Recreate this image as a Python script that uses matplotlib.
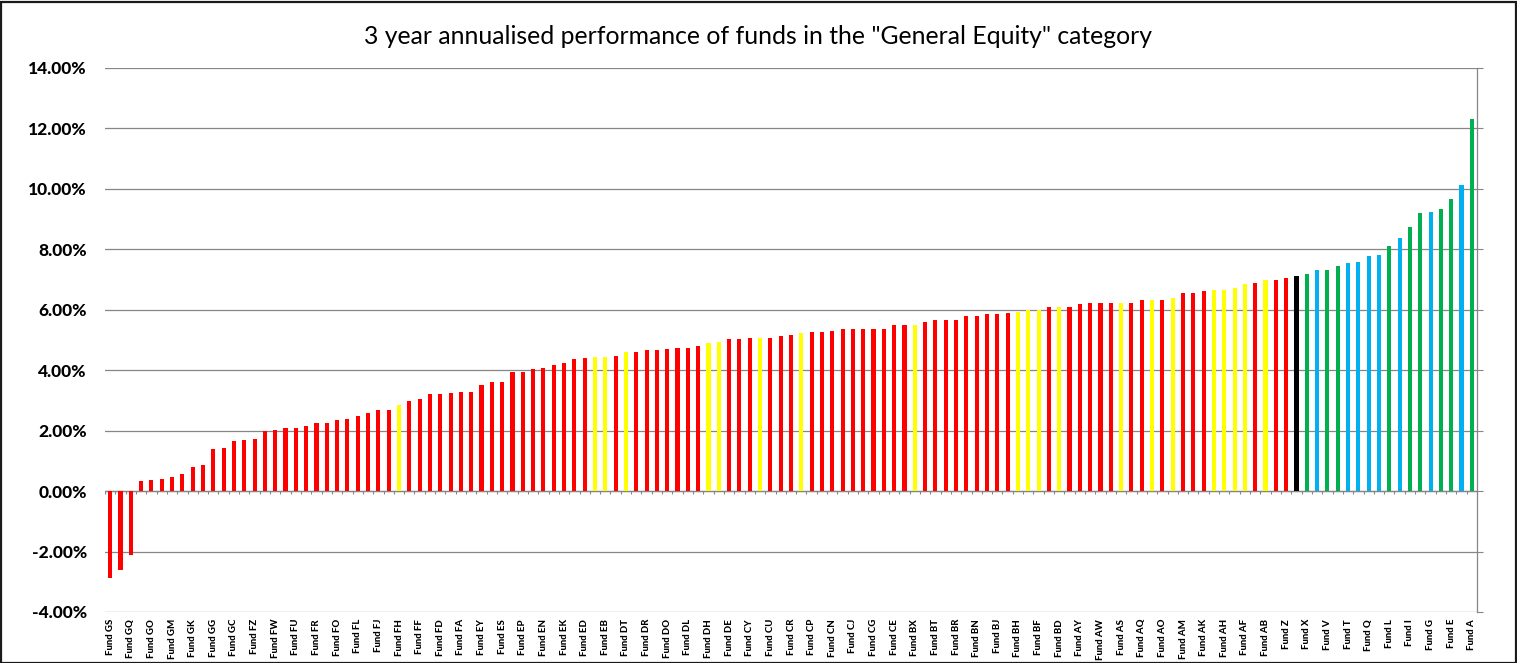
import matplotlib
matplotlib.use("Agg")
import matplotlib.pyplot as plt
from matplotlib.patches import Rectangle
import numpy as np

# ---- data -------------------------------------------------------------
title = '3 year annualised performance of funds in the "General Equity" category'

# 3-year annualised return (%) of each fund, sorted ascending (133 funds)
returns_pct = [
    -2.89, -2.62, -2.10, 0.33, 0.36, 0.40, 0.46, 0.56, 0.79, 0.86,
    1.38, 1.42, 1.65, 1.68, 1.71, 1.98, 2.01, 2.08, 2.08, 2.14,
    2.24, 2.27, 2.34, 2.37, 2.47, 2.57, 2.67, 2.70, 2.84, 2.99,
    3.05, 3.21, 3.21, 3.25, 3.28, 3.28, 3.51, 3.61, 3.61, 3.93,
    3.93, 4.03, 4.07, 4.16, 4.24, 4.36, 4.39, 4.43, 4.43, 4.46,
    4.59, 4.59, 4.66, 4.66, 4.69, 4.75, 4.75, 4.79, 4.90, 4.93,
    5.02, 5.02, 5.08, 5.08, 5.08, 5.12, 5.18, 5.22, 5.25, 5.25,
    5.31, 5.35, 5.38, 5.38, 5.38, 5.38, 5.48, 5.51, 5.51, 5.61,
    5.65, 5.65, 5.65, 5.78, 5.81, 5.85, 5.85, 5.88, 5.92, 5.99,
    5.99, 6.08, 6.08, 6.08, 6.18, 6.21, 6.21, 6.24, 6.24, 6.24,
    6.31, 6.34, 6.34, 6.38, 6.55, 6.57, 6.61, 6.64, 6.67, 6.71,
    6.84, 6.87, 6.97, 6.97, 7.06, 7.13, 7.20, 7.30, 7.32, 7.46,
    7.56, 7.59, 7.79, 7.82, 8.12, 8.39, 8.75, 9.19, 9.22, 9.32,
    9.65, 10.12, 12.31,
]

# colour group of every bar: R red, Y yellow, K black, G green, B blue
groups = (
    "R" * 28 + "Y" + "R" * 18 + "YY" + "R" + "Y" + "R" * 7 + "YY" + "RRR" + "Y"
    + "RRR" + "Y" + "R" * 10 + "Y" + "R" * 9 + "YYY" + "R" + "Y" + "R" * 5 + "Y"
    + "RR" + "Y" + "R" + "Y" + "RRR" + "YYYY" + "R" + "Y" + "RR" + "K" + "G" + "B"
    + "GG" + "BBBB" + "G" + "B" + "GG" + "B" + "GG" + "B" + "G"
)

# labels shown on the axis (every second fund, starting with the first)
shown_labels = [
    "GS", "GQ", "GO", "GM", "GK", "GG", "GC", "FZ", "FW", "FU", "FR", "FO",
    "FL", "FJ", "FH", "FF", "FD", "FA", "EY", "ES", "EP", "EN", "EK", "ED",
    "EB", "DT", "DR", "DO", "DL", "DH", "DE", "CY", "CU", "CR", "CP", "CN",
    "CJ", "CG", "CE", "BX", "BT", "BR", "BN", "BJ", "BH", "BF", "BD", "AY",
    "AW", "AS", "AQ", "AO", "AM", "AK", "AH", "AF", "AB", "Z", "X", "V", "T",
    "Q", "L", "I", "G", "E", "A",
]

y_ticks_pct = [-4, -2, 0, 2, 4, 6, 8, 10, 12, 14]

group_colors = {"R": "#FF0000", "Y": "#FFFF00", "K": "#000000",
                "G": "#00B050", "B": "#00B0F0"}

assert len(groups) == len(returns_pct)

# ---- figure -----------------------------------------------------------
W, H, DPI = 1517, 663, 100
fig = plt.figure(figsize=(W / DPI, H / DPI), dpi=DPI, facecolor="white")
ax = fig.add_axes([105 / W, 1 - 612 / H, (1477 - 105) / W, (612 - 68) / H])

n = len(returns_pct)
x = np.arange(n)
colors = [group_colors[g] for g in groups]
grid_c = "#868686"

ax.bar(x, returns_pct, width=0.4, color=colors, zorder=3)

ax.set_xlim(-0.5, n - 0.5)
ax.set_ylim(y_ticks_pct[0], y_ticks_pct[-1])

# gridlines
ax.set_yticks(y_ticks_pct)
ax.yaxis.grid(True, color=grid_c, linewidth=0.9)
ax.set_axisbelow(True)
ax.set_yticklabels([f"{v:.2f}%" for v in y_ticks_pct],
                   fontfamily="Lato", fontweight="black", fontsize=12.5)
ax.tick_params(axis="y", left=False, right=True, labelleft=True,
               labelright=False, direction="out", length=4.5, width=0.8,
               color=grid_c, pad=8.5)

# category axis (horizontal line at zero with small ticks between bars)
ax.axhline(0, color=grid_c, linewidth=0.9, zorder=2)
bounds = np.arange(n + 1) - 0.5
ax.vlines(bounds, -0.1, 0, color=grid_c, linewidth=0.8, zorder=2)

ax.set_xticks(x[::2])
ax.set_xticklabels([f"Fund {s}" for s in shown_labels], rotation=90,
                   fontfamily="Lato", fontweight="black", fontsize=6.9,
                   va="top", ha="center")
ax.tick_params(axis="x", length=0, pad=5)

for side in ("left", "top", "bottom"):
    ax.spines[side].set_visible(False)
ax.spines["right"].set_color(grid_c)
ax.spines["right"].set_linewidth(0.9)

fig.text(0.5, 1 - 37 / H, title, ha="center", va="center",
         fontfamily="Lato", fontsize=17.8, color="black")

# chart border
fig.patches.append(Rectangle((0.5 / W, 0.5 / H), 1 - 2 / W, 1 - 2 / H,
                             transform=fig.transFigure, fill=False,
                             edgecolor="#1a1a1a", linewidth=1.6))

fig.savefig("out.png", dpi=DPI, facecolor="white")
